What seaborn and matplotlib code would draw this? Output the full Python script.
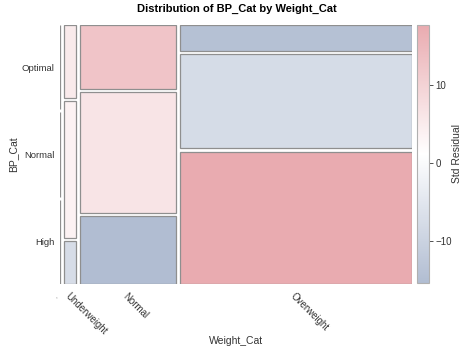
import numpy as np
import pandas as pd
import matplotlib
matplotlib.use("Agg")
import matplotlib.pyplot as plt
import seaborn as sns
from matplotlib.colors import LinearSegmentedColormap, Normalize

# ---- data ----
weight_cats = [".", "Underweight", "Normal", "Overweight"]
bp_cats = ["Optimal", "Normal", "High"]          # top to bottom
counts_optimal = [2, 54, 370, 365]
counts_normal = [2, 101, 705, 1325]
counts_high = [2, 32, 397, 1860]
resid_optimal = [0.3, 5.3, 12.6, -14.3]
resid_normal = [0.2, 3.7, 6.4, -7.7]
resid_high = [0.1, -7.5, -15.3, 17.6]
cbar_ticks = [-10, 0, 10]

sns.set_theme(style="white")
plt.rcParams["font.family"] = ["Liberation Sans", "DejaVu Sans"]

rows = []
for i, w in enumerate(weight_cats):
    for b, c, r in zip(bp_cats, [counts_optimal, counts_normal, counts_high],
                       [resid_optimal, resid_normal, resid_high]):
        rows.append(dict(weight=w, bp=b, count=c[i], resid=r[i]))
df = pd.DataFrame(rows)

cmap = LinearSegmentedColormap.from_list("sas", ["#b1bdd2", "#ffffff", "#e9abb0"])
vmin, vmax = df["resid"].min(), df["resid"].max()
norm = Normalize(vmin=vmin, vmax=vmax)

fig = plt.figure(figsize=(4.74, 3.55), dpi=100)
ax = fig.add_axes([60 / 474, 71 / 355, 352 / 474, 259 / 355])

gap_x = 0.0105
gap_y = 0.012
col_tot = df.groupby("weight", sort=False)["count"].sum()
total = col_tot.sum()
usable_x = 1 - gap_x * (len(weight_cats) - 1)
usable_y = 1 - gap_y * (len(bp_cats) - 1)

left = 0.0
xcenters = []
first_centers = []
for w in weight_cats:
    width = col_tot[w] / total * usable_x
    sub = df[df["weight"] == w].set_index("bp")
    bottom = 0.0
    for b in reversed(bp_cats):  # bottom first: High, Normal, Optimal
        h = sub.loc[b, "count"] / col_tot[w] * usable_y
        ax.bar(left, h, width=width, bottom=bottom, align="edge",
               color=cmap(norm(sub.loc[b, "resid"])),
               edgecolor="#8f8f8f", linewidth=0.9)
        if w == weight_cats[0]:
            first_centers.append((b, bottom + h / 2))
        bottom += h + gap_y
    xcenters.append(left + width / 2)
    left += width + gap_x

ax.set_xlim(0, 1)
ax.set_ylim(0, 1)
for s in ax.spines.values():
    s.set_visible(False)

ax.set_xticks(xcenters)
ax.set_xticklabels(weight_cats, rotation=-45, ha="left", va="top",
                   rotation_mode="anchor", fontsize=7, color="#333333")
ax.set_yticks([c for _, c in first_centers])
ax.set_yticklabels([b for b, _ in first_centers], fontsize=6.8, color="#333333")
ax.tick_params(axis="both", length=0)
ax.tick_params(axis="x", pad=5)
ax.tick_params(axis="y", pad=4)
ax.set_xlabel("Weight_Cat", fontsize=7.5, color="#333333")
ax.set_ylabel("BP_Cat", fontsize=7.5, color="#333333")
ax.xaxis.set_label_coords(0.5, -0.2)
ax.yaxis.set_label_coords(-42 / 352, 0.5)

fig.text(0.5, 1 - 9 / 355, "Distribution of BP_Cat by Weight_Cat",
         ha="center", va="center", fontsize=8, fontweight="bold", color="#000000")

# colorbar
cax = fig.add_axes([417 / 474, 72 / 355, 12 / 474, 258 / 355])
sm = matplotlib.cm.ScalarMappable(norm=norm, cmap=cmap)
cb = fig.colorbar(sm, cax=cax)
cb.set_ticks(cbar_ticks)
cb.ax.tick_params(labelsize=7, length=3, width=0.6, colors="#333333", pad=1.5)
cb.outline.set_edgecolor("#b0b0b0")
cb.outline.set_linewidth(0.8)
cb.set_label("Std Residual", fontsize=7.5, color="#333333", labelpad=0)

fig.savefig("out.png", dpi=100)
